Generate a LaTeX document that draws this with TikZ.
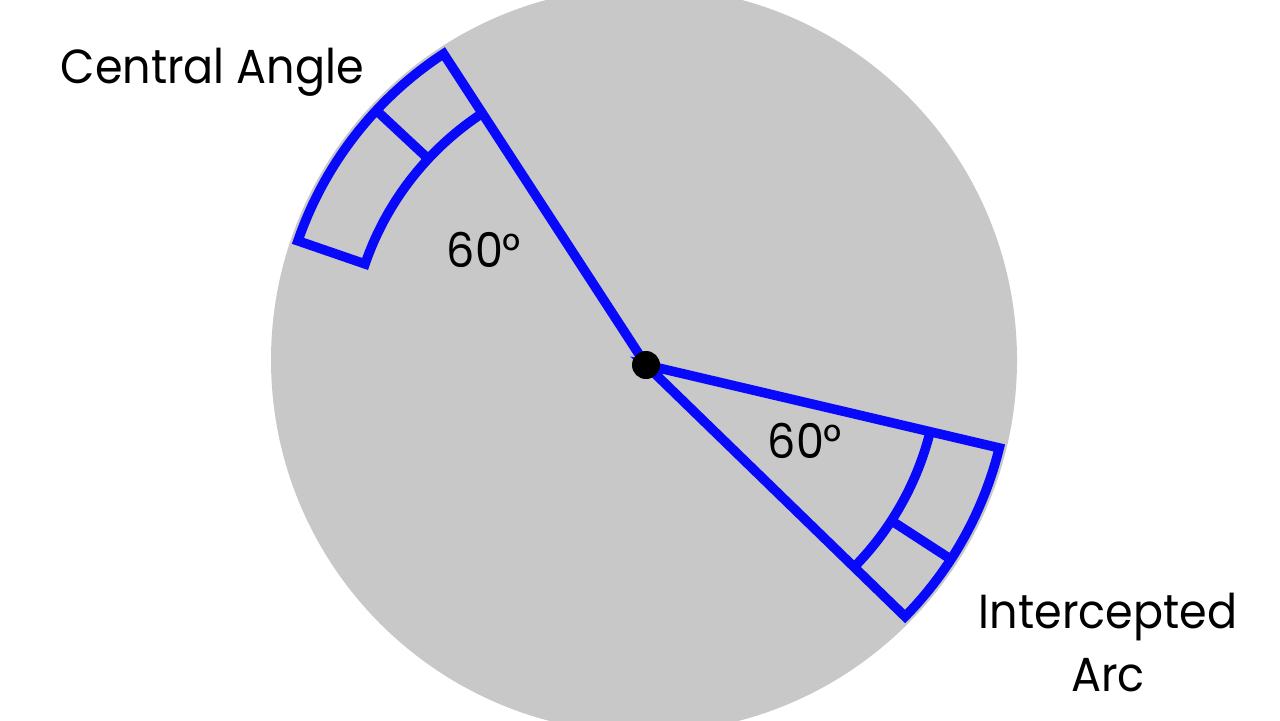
\documentclass[tikz,border=0pt]{standalone}
\usepackage{fontspec}
\setmainfont{Poppins}[FakeStretch=0.93]
\usetikzlibrary{calc}

\definecolor{disc}{RGB}{200,200,200}
\definecolor{arcblue}{RGB}{8,8,250}

\tikzset{
  band/.style={draw=arcblue,line width=0.095cm,line join=miter},
  lbl/.style={font=\fontsize{13.6pt}{17.9pt}\selectfont,inner sep=0pt},
}

\begin{document}
\begin{tikzpicture}[x=0.01cm,y=0.01cm]

\clip (0,0) rectangle (1280,720);
\fill [white] (0,0) rectangle (1280,720);

\coordinate (mid) at (644,360);
\fill [disc] (mid) circle [radius=373];

\coordinate (ua) at ($(mid)+(123.2:366)$);
\coordinate (ub) at ($(mid)+(161:295)$);
\coordinate (ra) at ($(mid)+(-13.9:366)$);
\coordinate (rb) at ($(mid)+(-44.5:366)$);
\coordinate (ctr) at (646,355);

\draw [band] (ctr) -- (ua) arc [start angle=123.2,end angle=161,radius=366] -- (ub)
  arc [start angle=161,end angle=123.2,radius=295];
\draw [band] ($(mid)+(137:295)$) -- ($(mid)+(137:366)$);

\draw [band] (ctr) -- (ra) arc [start angle=-13.9,end angle=-44.5,radius=366] -- cycle;
\draw [band] ($(mid)+(-13.9:295)$) arc [start angle=-13.9,end angle=-44.5,radius=295];
\draw [band] ($(mid)+(-33:295)$) -- ($(mid)+(-33:366)$);

\node [fill,circle,inner sep=0pt,minimum size=0.28cm] at (ctr) (dot) {};

\node [lbl,anchor=base west] at (60,637) (central) {Central Angle};
\node [lbl,anchor=north,align=center] at (1108,128) (intercepted) {Intercepted\\Arc};
\node [lbl] at (484,470) (upang) {60°};
\node [lbl] at (805,279) (lowang) {60°};
\end{tikzpicture}
\end{document}
